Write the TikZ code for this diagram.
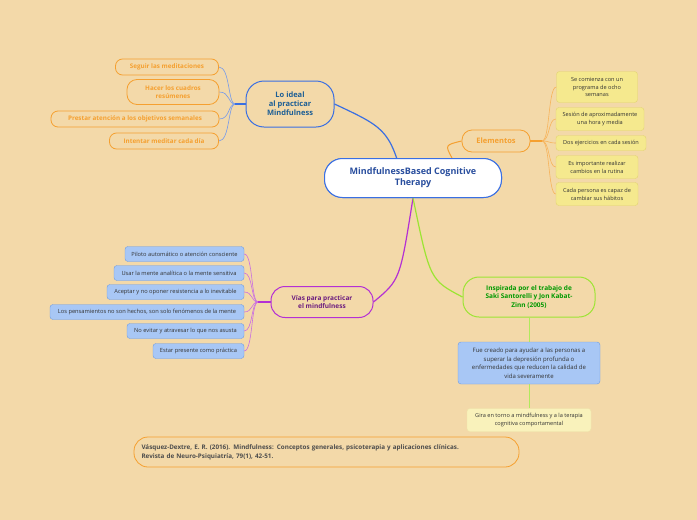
\documentclass[tikz,border=0pt]{standalone}
\usepackage{fontspec}
\setmainfont{Open Sans}
\begin{document}
\begin{tikzpicture}[x=1pt,y=-1pt,
 main/.style={draw,rounded corners=12pt,line width=1pt,align=center,font=\fontsize{7.5}{9}\selectfont\bfseries,inner sep=3pt},
 oleaf/.style={draw=orO,line width=0.8pt,rounded corners=7pt,text=orO,align=center,font=\fontsize{6.3}{8.5}\selectfont\bfseries,inner sep=2pt},
 yleaf/.style={draw=yB,fill=yF,rounded corners=3pt,align=center,font=\fontsize{5.6}{7.8}\selectfont,inner sep=2pt,text=black!80},
 bleaf/.style={draw=bB,fill=bF,rounded corners=3pt,align=center,font=\fontsize{5.7}{7.8}\selectfont,inner sep=2pt,text=black!80},
 con/.style={line width=0.6pt}]
\definecolor{bg}{HTML}{F3D9A9}
\definecolor{blu}{HTML}{3A6FE2}
\definecolor{orO}{HTML}{F5A030}
\definecolor{pur}{HTML}{B430D4}
\definecolor{grn}{HTML}{9CE533}
\definecolor{yB}{HTML}{E2D470}
\definecolor{yF}{HTML}{F5E98E}
\definecolor{bB}{HTML}{6E9CE2}
\definecolor{bF}{HTML}{A8C7F5}
\fill[bg] (0,0) rectangle (697,520);
\useasboundingbox (0,0) rectangle (697,520);
\node[main,draw=blu,fill=white,minimum width=177pt,minimum height=39pt,text=blu!70!black,font=\fontsize{9}{11}\selectfont\bfseries,rounded corners=18pt] (cen) at (413,178) {MindfulnessBased Cognitive\\Therapy};
\node[main,draw=blu,text=blu!60!teal!80!black,minimum width=88pt,minimum height=46pt,rounded corners=18pt] (lo) at (290,104) {Lo ideal\\al practicar\\Mindfulness};
\node[main,draw=orO,text=orO,minimum width=68pt,minimum height=22pt,rounded corners=10pt,line width=0.8pt] (el) at (496,141) {Elementos};
\node[main,draw=pur,text=pur!60!black,minimum width=102pt,minimum height=31pt,rounded corners=14pt,font=\fontsize{6.5}{8.5}\selectfont\bfseries] (vi) at (322,302) {Vías para practicar\\el mindfulness};
\node[main,draw=grn,text=green!60!black,minimum width=132pt,minimum height=40pt,rounded corners=16pt,font=\fontsize{6.5}{8.5}\selectfont\bfseries] (in) at (529,297) {Inspirada por el trabajo de\\Saki Santorelli y Jon Kabat-\\Zinn (2005)};
\draw[blu,line width=1.2pt] (cen.south) ++(-5,0) .. controls (390,130) .. (lo.east);
\draw[orO,line width=1pt] (cen.north east) ++(-50,0) .. controls (445,145) .. (el.west);
\draw[pur,line width=1.2pt] (cen.south) .. controls (400,280) .. (vi.east);
\draw[grn,line width=1.2pt] (cen.south) .. controls (430,280) .. (in.west);
\node[main,draw=blu,fill=white,minimum width=177pt,minimum height=39pt,text=blu!70!black,font=\fontsize{9}{11}\selectfont\bfseries,rounded corners=18pt] at (413,178) {MindfulnessBased Cognitive\\Therapy};
\node[oleaf,minimum width=103pt,minimum height=16pt] (l1) at (167,67) {Seguir las meditaciones};
\node[oleaf,minimum width=92pt,minimum height=25pt,rounded corners=10pt] (l2) at (173,92) {Hacer los cuadros\\resúmenes};
\node[oleaf,minimum width=168pt,minimum height=16pt] (l3) at (135,119) {Prestar atención a los objetivos semanales};
\node[oleaf,minimum width=109pt,minimum height=16pt] (l4) at (164,141) {Intentar meditar cada día};
\coordinate (lh) at (235,104);
\draw[blu,line width=1.5pt] (lo.west) -- (lh);
\foreach \n in {l1,l2,l3,l4}{\draw[con,blu!70] (lh) .. controls (228,104) and (230,0|-\n.east) .. (\n.east);}
\node[yleaf,minimum width=81pt,minimum height=31pt] (e1) at (597,87) {Se comienza con un\\programa de ocho\\semanas};
\node[yleaf,minimum width=88pt,minimum height=23pt] (e2) at (600,119) {Sesión de aproximadamente\\una hora y media};
\node[yleaf,minimum width=90pt,minimum height=15pt] (e3) at (601,143) {Dos ejercicios en cada sesión};
\node[yleaf,minimum width=82pt,minimum height=23pt] (e4) at (597,167) {Es importante realizar\\cambios en la rutina};
\node[yleaf,minimum width=82pt,minimum height=23pt] (e5) at (597,194) {Cada persona es capaz de\\cambiar sus hábitos};
\coordinate (eh) at (542,141);
\draw[orO,line width=1.5pt] (el.east) -- (eh);
\foreach \n in {e1,e2,e3,e4,e5}{\draw[con,orO!80] (eh) .. controls (550,141) and (548,0|-\n.west) .. (\n.west);}
\node[bleaf,minimum width=119pt,minimum height=15pt] (v1) at (184.5,254) {Piloto automático o atención consciente};
\node[bleaf,minimum width=130pt,minimum height=15pt] (v2) at (179,273) {Usar la mente analítica o la mente sensitiva};
\node[bleaf,minimum width=137pt,minimum height=15pt] (v3) at (175.5,292) {Aceptar y no oponer resistencia a lo inevitable};
\node[bleaf,minimum width=194pt,minimum height=15pt] (v4) at (147,312) {Los pensamientos no son hechos, son solo fenómenos de la mente};
\node[bleaf,minimum width=117pt,minimum height=15pt] (v5) at (185.5,331) {No evitar y atravesar lo que nos asusta};
\node[bleaf,minimum width=91pt,minimum height=15pt] (v6) at (198.5,351) {Estar presente como práctica};
\coordinate (vh) at (258,302);
\draw[pur,line width=1.5pt] (vi.west) -- (vh);
\foreach \n in {v1,v2,v3,v4,v5,v6}{\draw[con,pur!70] (vh) .. controls (251,302) and (253,0|-\n.east) .. (\n.east);}
\node[bleaf,minimum width=142pt,minimum height=42pt,font=\fontsize{6}{8.5}\selectfont] (f1) at (529,363) {Fue creado para ayudar a las personas a\\superar la depresión profunda o\\enfermedades que reducen la calidad de\\vida severamente};
\node[yleaf,fill=yF!60,draw=yB!60,minimum width=124pt,minimum height=23pt] (f2) at (529,420) {Gira en torno a mindfulness y a la terapia\\cognitiva comportamental};
\draw[con,grn!80] (in.south) -- (f1.north);
\draw[con,grn!80] (f1.south) -- (f2.north);
\node[draw=orO,line width=0.8pt,rounded corners=14pt,minimum width=385pt,minimum height=30pt,align=left,text width=370pt,font=\fontsize{6.3}{9}\selectfont\bfseries,text=black!70] (ref) at (326.5,452) {Vásquez-Dextre, E. R. (2016). Mindfulness: Conceptos generales, psicoterapia y aplicaciones clínicas.\\Revista de Neuro-Psiquiatría, 79(1), 42-51.};
\end{tikzpicture}
\end{document}
